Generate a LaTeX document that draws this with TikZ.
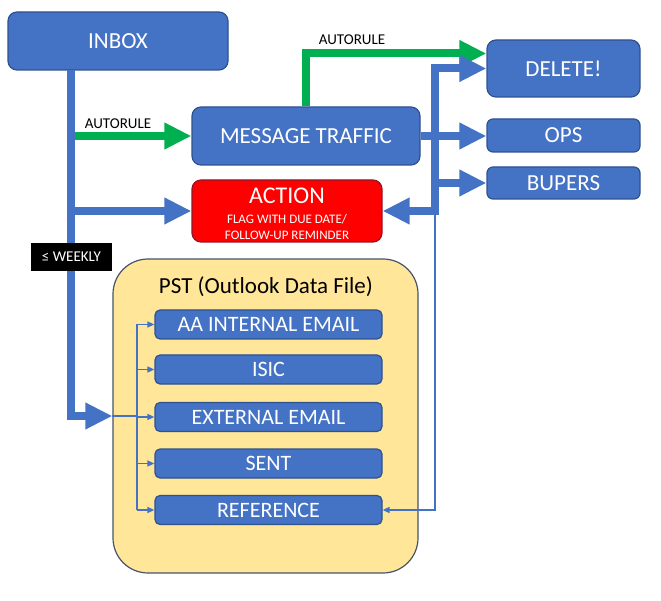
\documentclass[tikz,border=0pt]{standalone}
\usepackage{fontspec}
\setmainfont{Carlito}
\usetikzlibrary{arrows.meta,positioning,calc}
\definecolor{BoxBlue}{RGB}{68,114,196}
\definecolor{EdgeBlue}{RGB}{47,82,143}
\definecolor{RuleGreen}{RGB}{0,176,80}
\definecolor{ActionRed}{RGB}{255,0,0}
\definecolor{ActionEdge}{RGB}{150,20,40}
\definecolor{PstYellow}{RGB}{255,230,153}
\definecolor{PstEdge}{RGB}{70,84,106}

\begin{document}
\begin{tikzpicture}[x=1pt, y=-1pt,
    box/.style={draw=EdgeBlue, line width=1.2pt, fill=BoxBlue, text=white, rounded corners=9pt, inner sep=0pt, font=\fontsize{23}{25}\selectfont},
    folder/.style={box, rounded corners=5pt, minimum width=227pt, minimum height=29pt, font=\fontsize{22}{24}\selectfont},
    flow/.style={BoxBlue, line width=8pt, -{Triangle[length=27pt,width=25pt]}},
    rule/.style={flow, RuleGreen},
    thinflow/.style={BoxBlue, line width=1.5pt, -{Triangle[length=7pt,width=6pt]}},
    lbl/.style={font=\fontsize{15}{17}\selectfont}]
  \useasboundingbox (0,0) rectangle (661,601);
  % boxes
  \node[box, minimum width=220pt, minimum height=58pt] (inbox) at (118,41) {INBOX};
  \node[box, minimum width=228pt, minimum height=58pt] (msg) at (306,136) {MESSAGE TRAFFIC};
  \node[box, fill=ActionRed, draw=ActionEdge, minimum width=190pt, minimum height=62pt] (action) at (287,211) {};
  \node[text=white, font=\fontsize{24}{26}\selectfont] (actiontitle) at (287,196) {ACTION};
  \node[text=white, align=center, font=\fontsize{13}{15.5}\selectfont] (actionnote) at (287,227) {FLAG WITH DUE DATE/\\FOLLOW-UP REMINDER};
  \node[box, minimum width=153pt, minimum height=57pt] (delete) at (563.5,68.5) {DELETE!};
  \node[box, rounded corners=6pt, minimum width=153pt, minimum height=33pt] (ops) at (563.5,135.5) {OPS};
  \node[box, rounded corners=6pt, minimum width=153pt, minimum height=32pt] (bupers) at (563.5,183) {BUPERS};
  % pst file with its folders
  \node[draw=PstEdge, line width=1.2pt, fill=PstYellow, rounded corners=35pt, minimum width=305pt, minimum height=314pt, inner sep=0pt] (pst) at (265.5,416) {};
  \node[font=\fontsize{23}{25}\selectfont] (psttitle) at (266,287) {PST (Outlook Data File)};
  \foreach \name/\txt/\y in {aa/AA INTERNAL EMAIL/324.5, isic/ISIC/369.5, ext/EXTERNAL EMAIL/417, sent/SENT/463.5, ref/REFERENCE/510}
    \node[folder] (\name) at (268.5,\y) {\txt};
  % labels
  \node[lbl] (rulein) at (118,124) {AUTORULE};
  \node[lbl] (ruledel) at (352,40) {AUTORULE};
  % inbox trunk
  \coordinate (trunk) at (71,70);
  \draw[flow] (trunk) |- (pst.west);
  \draw[rule] ($(trunk |- msg.west)+(4,0)$) -- (msg.west);
  \draw[flow] (trunk |- action.west) -- (action.west);
  \draw[rule] (msg.north) |- ($(delete.west)+(0,-15)$);
  % bus on the right
  \coordinate (busbot) at (435,215);
  \draw[flow] (msg.east) -- (msg.east -| ops.west);
  \draw[flow] (busbot) |- (delete.west);
  \draw[flow] (busbot |- bupers.west) -- (bupers.west);
  \draw[flow] (busbot |- action.east) -- (action.east);
  \draw[thinflow] (busbot) |- (ref.east);
  % split inside pst
  \coordinate (split) at (137,416);
  \draw[BoxBlue, line width=1.5pt] (pst.west) -- (split);
  \draw[BoxBlue, line width=1.5pt] (split |- aa.west) -- (split |- ref.west);
  \foreach \name in {aa,isic,ext,sent,ref}
    \draw[thinflow] (split |- \name.west) -- (\name.west);
  \node[fill=black, text=white, minimum width=81pt, minimum height=28pt, inner sep=0pt, lbl] (weekly) at (71.5,257) {≤ WEEKLY};
\end{tikzpicture}
\end{document}
